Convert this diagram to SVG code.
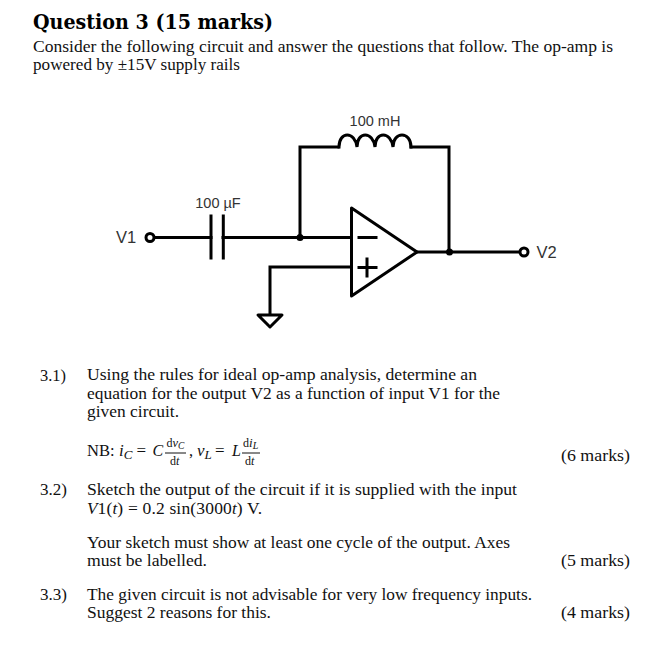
<svg xmlns="http://www.w3.org/2000/svg" width="670" height="655" viewBox="0 0 670 655">
<style>
.t{font-family:"Liberation Serif","DejaVu Serif",serif;font-size:16.5px;fill:#111}
.h{font-family:"DejaVu Serif","Liberation Serif",serif;font-size:21px;font-weight:bold;fill:#000}
.m{font-style:italic;font-size:17px}
.s{font-size:12px}
.c{font-family:"Liberation Sans",Arial,sans-serif;fill:#333}
.w{fill:none;stroke:#000;stroke-width:3;stroke-linecap:square}
.o{fill:#fff;stroke:#000;stroke-width:3}
</style>
<rect width="670" height="655" fill="#fff"/>
<g id="connectors">
<path class="w" d="M154 237.500H211M223 237.500H351M300 237.500V147H338M411 147H449V252M417 252H519M351 267H270V314"/>
</g>
<g id="inductor"><path class="w" d="M339 147C339 131 355 131 357 147C357 131 373 131 375 147C375 131 391 131 393 147C393 131 411 131 411 147"/><text class="c" x="375" y="126" font-size="14.500" text-anchor="middle">100 mH</text></g>
<g id="capacitor"><path class="w" d="M211 216V258M223.300 216V258"/><text class="c" x="218" y="208" font-size="14.500" text-anchor="middle">100 µF</text></g>
<g id="v1"><circle class="o" cx="150" cy="237.500" r="4"/><text class="c" x="116" y="243" font-size="16.500">V1</text></g>
<g id="v2"><circle class="o" cx="524" cy="252" r="4"/><text class="c" x="536.500" y="258" font-size="16.500">V2</text></g>
<g id="junction-input"><circle cx="300" cy="237.500" r="3.500"/></g>
<g id="junction-output"><circle cx="449.500" cy="252" r="3.500"/></g>
<g id="opamp"><path class="w" d="M351.500 208V296L417 252Z" stroke-linejoin="round"/><path class="w" d="M359 237.500H376M367 259V276M359 267.500H376" stroke-linecap="butt"/></g>
<g id="ground"><path class="w" d="M258 315H282L270 327Z" stroke-linejoin="round"/></g>
<g id="text">
<text class="h" x="33" y="29" textLength="240" lengthAdjust="spacingAndGlyphs">Question 3 (15 marks)</text>
<text class="t" x="33" y="52" textLength="580" lengthAdjust="spacingAndGlyphs">Consider the following circuit and answer the questions that follow. The op-amp is</text>
<text class="t" x="33" y="70" textLength="207" lengthAdjust="spacingAndGlyphs">powered by ±15V supply rails</text>
<text class="t" x="40" y="381" textLength="26" lengthAdjust="spacingAndGlyphs">3.1)</text>
<text class="t" x="87" y="380" textLength="390" lengthAdjust="spacingAndGlyphs">Using the rules for ideal op-amp analysis, determine an</text>
<text class="t" x="87" y="399" textLength="413" lengthAdjust="spacingAndGlyphs">equation for the output V2 as a function of input V1 for the</text>
<text class="t" x="87" y="417" textLength="92" lengthAdjust="spacingAndGlyphs">given circuit.</text>
<text class="t" x="87" y="456">NB:</text>
<text class="t" x="119" y="456"><tspan class="m">i</tspan><tspan class="m" style="font-size:13px" dy="3">C</tspan></text>
<text class="t" x="136.500" y="456" style="font-size:17px">=</text>
<text class="t m" x="152.500" y="456" style="font-size:16px">C</text>
<text class="t s" x="166.500" y="447">d<tspan class="m" style="font-size:12.500px">v</tspan><tspan class="m" style="font-size:9.500px" dy="2">C</tspan></text>
<path d="M165 453H186M242 453H260" stroke="#111" stroke-width="1" fill="none"/>
<text class="t s" x="170" y="465">d<tspan class="m" style="font-size:12px">t</tspan></text>
<text class="t" x="189" y="456">,</text>
<text class="t" x="197" y="456"><tspan class="m">v</tspan><tspan class="m" style="font-size:13px" dy="3">L</tspan></text>
<text class="t" x="215" y="456" style="font-size:17px">=</text>
<text class="t m" x="232" y="456" style="font-size:16px">L</text>
<text class="t s" x="243" y="447">d<tspan class="m" style="font-size:13px">i</tspan><tspan class="m" style="font-size:10px" dy="2">L</tspan></text>
<text class="t s" x="245" y="465">d<tspan class="m" style="font-size:12px">t</tspan></text>
<text class="t" x="561" y="461" textLength="69" lengthAdjust="spacingAndGlyphs">(6 marks)</text>
<text class="t" x="40" y="495" textLength="27" lengthAdjust="spacingAndGlyphs">3.2)</text>
<text class="t" x="87" y="495" textLength="430" lengthAdjust="spacingAndGlyphs">Sketch the output of the circuit if it is supplied with the input</text>
<text class="t" x="87" y="514" style="font-size:17.500px" textLength="175" lengthAdjust="spacing"><tspan class="m">V</tspan>1(<tspan class="m">t</tspan>) = 0.2 sin(3000<tspan class="m">t</tspan>) V.</text>
<text class="t" x="87" y="548" textLength="423" lengthAdjust="spacingAndGlyphs">Your sketch must show at least one cycle of the output. Axes</text>
<text class="t" x="87" y="566" textLength="120" lengthAdjust="spacingAndGlyphs">must be labelled.</text>
<text class="t" x="561" y="566" textLength="69" lengthAdjust="spacingAndGlyphs">(5 marks)</text>
<text class="t" x="40" y="600" textLength="27" lengthAdjust="spacingAndGlyphs">3.3)</text>
<text class="t" x="87" y="600" textLength="445" lengthAdjust="spacingAndGlyphs">The given circuit is not advisable for very low frequency inputs.</text>
<text class="t" x="87" y="618" textLength="184" lengthAdjust="spacingAndGlyphs">Suggest 2 reasons for this.</text>
<text class="t" x="561" y="618" textLength="69" lengthAdjust="spacingAndGlyphs">(4 marks)</text>
</g>
</svg>
